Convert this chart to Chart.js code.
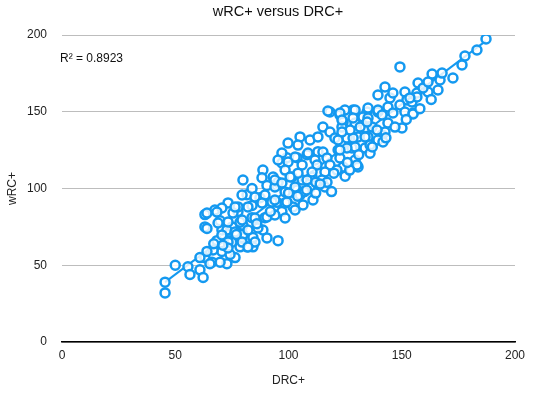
<!DOCTYPE html>
<html>
<head>
<meta charset="utf-8">
<script src="https://cdn.jsdelivr.net/npm/chart.js@4"></script>
<style>
  html, body { margin: 0; padding: 0; background: #fff; }
  #wrap { width: 541px; height: 394px; position: relative; }
</style>
</head>
<body>
<div id="wrap"><canvas id="chart"></canvas></div>
<script>
"use strict";

// DRC+ (x) and wRC+ (y)
const drcPlus = [
  45.5, 45.5, 50, 55.6, 56.5, 60.9, 62.3, 63.1, 66.2, 70.6, 66.7, 72.8, 76.4, 63.1, 67.5, 63.1, 69.8, 70.6, 74.2, 79.5,
  75.1, 79.9, 77.7, 83.9, 84.3, 81.7, 60.9, 65.3, 69.8, 64, 74.2, 75, 78.6, 68.4, 64, 64, 72.8, 78.6, 77.7, 83.9,
  89.6, 95.4, 88.7, 84.3, 79.9, 87.4, 94.9, 94.9, 99.3, 97.1, 102, 103.8, 90.5, 81.7, 75.5,
  79.9, 83.9, 88.7, 93.2, 88.3, 97.1, 99.3, 103.8, 108.2, 113, 95.4, 101.5, 106, 110.4, 94, 89.6, 85.2, 79.5, 73.3, 70.6,
  76.4, 82.1, 88.3, 92.7, 98.5, 90.5, 85.2, 94, 98.5, 102.9, 106.4, 79.5, 73.3, 68.9, 68.4, 76.4, 82.1, 86.5, 70.6, 73.3,
  79.5, 85.2, 90.5, 82.1, 73.3,
  118.3, 122.7, 128.5, 134.7, 139.5, 124.1, 129.4, 115.2, 118.3, 123.6, 133.8, 136.9, 105.1, 109.5, 113, 120.5, 125.8, 130.7, 135.1, 141.3,
  99.8, 104.2, 108.6, 115.2, 121.9, 128, 133.8, 97.1, 102.9, 111.7, 117, 122.7, 129.4, 130.7, 95.4, 99.8, 106, 112.6, 118.3, 124.1,
  98.5, 104.2, 110.4, 116.1, 121.4, 100.7, 108.2, 114.8, 94, 97.1, 102.9, 109.5, 116.1, 98.5, 105.1, 99.3, 94, 110.8,
  149.2, 163.4, 166.9, 157.2, 166, 161.6, 151.4, 142.6, 139.5, 144.8, 146.1, 152.3, 149.2, 154.5, 156.7, 143.9, 139.5, 135.1, 129.4, 124.9,
  122.7, 123.6, 128.5, 132.9, 135.1, 141.3, 146.1, 151.4, 155, 150.1, 143.9, 142.6, 139.1, 133.8, 128.5, 127.2, 123.6, 121.9, 139.5, 141.7,
  136, 129.4, 125.8, 122.7, 131.6,
  187.2, 183.2, 177.9, 176.6, 172.6, 167.8, 159.4, 161.6, 156.7, 153.6, 155, 134.7, 117.4, 130.2, 125, 119, 127, 136, 112, 107,
  112, 117, 120, 126, 131, 137, 143, 147, 152, 158, 163, 108, 114, 104, 92, 86, 77, 71, 67, 100
];
const wrcPlus = [
  39, 32, 50, 49, 44, 47, 42, 55, 52, 59, 60, 51, 55, 83, 86, 75, 79, 73, 66, 68,
  75, 76, 85, 81, 62, 62, 55, 51, 52, 59, 57, 65, 62, 66, 74, 84, 73, 78, 88, 89,
  81, 66, 73, 68, 70, 94, 102, 91, 91, 85, 88, 99, 102, 96, 84,
  105.5, 100, 112, 107.5, 107, 116.6, 120, 120, 122, 124, 104, 107.5, 105.5, 107.5, 101, 95.8, 94.5, 95.8, 90.6, 87.3,
  88, 88, 90.6, 91.2, 90.6, 81.4, 80.8, 82.7, 80.8, 86, 89.3, 79.5, 78.2, 77.5, 84.7, 71.7, 73, 74.3, 69.7, 65.1,
  65.1, 65.1, 67.8, 61.9, 61.2,
  149.8, 147.9, 151.1, 149.8, 149.8, 143.3, 142.7, 140, 136.8, 140, 139.4, 140, 133.6, 131.6, 133.6, 132.9, 132.9, 133.6, 133.6, 134.9,
  129.6, 128.3, 123.1, 123.8, 125.1, 126.4, 126.4, 123.1, 120.5, 118.6, 119.9, 119.9, 118.6, 114, 118.6, 117.3, 115.3, 115.3, 115.3, 114,
  112, 110, 110.7, 110.7, 112, 107.5, 105.5, 105.5, 105.5, 103.6, 101, 100.3, 101, 97.7, 95.8, 91.2, 92.5, 92.5,
  179.2, 174.6, 170.7, 168.7, 164.2, 162.9, 162.9, 166.1, 160.9, 159, 162.2, 157.7, 154.4, 156.4, 162.2, 153.1, 151.1, 152.4, 151.1, 151.1,
  149.2, 144.6, 145.9, 146.6, 145.9, 147.9, 149.2, 149.8, 149.2, 139.4, 142.7, 136.8, 138.1, 133.6, 132.9, 138.1, 136.8, 131.6, 131.6, 130.3,
  128.3, 127, 126.4, 125.1, 140,
  197.4, 190.2, 186.3, 180.5, 172, 175.2, 165.5, 169.4, 159.6, 159, 148.5, 143.3, 150.5, 115.3, 108, 98, 112, 123, 104, 98,
  97, 104, 110, 117, 122, 127, 133, 140, 145, 152, 158, 99, 103, 95, 85, 77, 70, 63, 64, 97
];

// trend line end points
const trendX = [45.5, 187];
const trendY = [39, 196];

const xTicks = [0, 50, 100, 150, 200];
const yTicks = [0, 50, 100, 150, 200];
const rSquared = 'R² = 0.8923';

const blue = '#1499f0';
const font = "'Liberation Sans', Arial, sans-serif";

Chart.defaults.font.family = font;
Chart.defaults.color = '#222';

const points = drcPlus.map((x, i) => ({ x: x, y: wrcPlus[i] }));
const trend = trendX.map((x, i) => ({ x: x, y: trendY[i] }));

// chart title and R² label
const overlay = {
  id: 'overlay',
  afterDraw(chart) {
    const c = chart.ctx;
    const a = chart.chartArea;
    c.save();
    c.fillStyle = '#111';
    c.textBaseline = 'middle';
    c.font = '14.5px ' + font;
    c.textAlign = 'center';
    c.fillText('wRC+ versus DRC+', 278, 12);
    c.font = '12px ' + font;
    c.textAlign = 'left';
    c.fillText(rSquared, a.left - 2, 59);
    c.restore();
  }
};

new Chart(document.getElementById('chart'), {
  type: 'scatter',
  data: {
    datasets: [
      {
        label: 'players',
        data: points,
        pointRadius: 4.5,
        pointBorderWidth: 2.5,
        pointBorderColor: blue,
        pointBackgroundColor: 'rgba(255,255,255,0.8)'
      },
      {
        type: 'line',
        label: 'trend',
        data: trend,
        borderColor: blue,
        borderWidth: 2,
        pointRadius: 0,
        fill: false
      }
    ]
  },
  options: {
    responsive: true,
    maintainAspectRatio: false,
    animation: false,
    layout: { padding: { top: 35, right: 26, left: 0, bottom: 0 } },
    plugins: {
      legend: { display: false },
      tooltip: { enabled: false }
    },
    scales: {
      x: {
        type: 'linear',
        min: 0,
        max: 200,
        afterBuildTicks: s => { s.ticks = xTicks.map(v => ({ value: v })); },
        grid: { display: false, drawTicks: false },
        border: { display: true, color: '#000', width: 1.5 },
        ticks: { padding: 6, font: { size: 12 }, maxRotation: 0 },
        title: { display: true, text: 'DRC+', font: { size: 12 }, padding: { top: 8, bottom: 6 } },
        afterFit: s => { s.height = 52; }
      },
      y: {
        type: 'linear',
        min: 0,
        max: 200,
        afterBuildTicks: s => { s.ticks = yTicks.map(v => ({ value: v })); },
        grid: { color: '#bdbdbd', lineWidth: 1, drawTicks: false },
        border: { display: false },
        ticks: { padding: 15, font: { size: 12 } },
        title: { display: true, text: 'wRC+', font: { size: 12 }, padding: { top: 5, bottom: 4 } },
        afterFit: s => { s.width = 62; }
      }
    }
  },
  plugins: [overlay]
});
</script>
</body>
</html>
